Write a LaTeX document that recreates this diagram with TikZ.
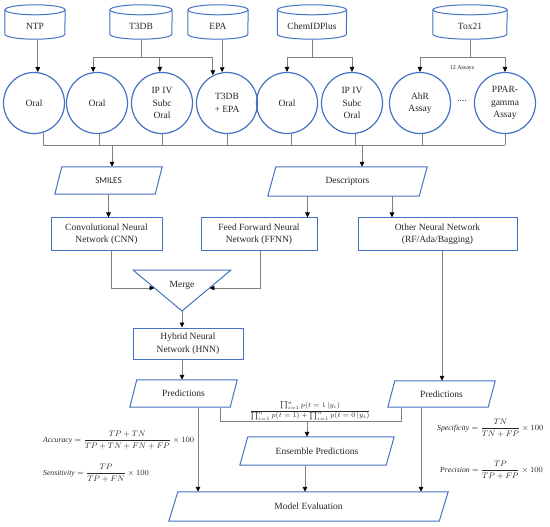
\documentclass[tikz,border=0pt]{standalone}
\usepackage{amsmath}
\usepackage{fontspec}
\setmainfont{Liberation Serif}
\newfontfamily\calfont{Carlito}
\usetikzlibrary{shapes.geometric,arrows.meta,calc}
\definecolor{boxblue}{RGB}{68,114,196}
\definecolor{lgray}{RGB}{128,128,128}
\definecolor{txt}{RGB}{38,38,38}
\newcommand\parashape[2]{\draw[draw=boxblue,line width=1pt] ([xshift=#2]#1.north west) -- (#1.north east) -- ([xshift=-#2]#1.south east) -- (#1.south west) -- cycle;}
\newcommand\dbshape[2]{%
  \draw[draw=boxblue,line width=1pt] ($(#1.north)+(0,-3)$) ellipse [x radius=#2, y radius=5];
  \draw[draw=boxblue,line width=1pt] ($(#1.north west)+(0,-3)$) -- ($(#1.south west)+(0,-5)$) arc[start angle=180, end angle=0, x radius=#2, y radius=5] -- ($(#1.north east)+(0,-3)$);}
\begin{document}
\begin{tikzpicture}[x=1pt,y=-1pt,
  every node/.style={text=txt, font=\fontsize{9.5}{12.5}\selectfont, inner sep=0pt},
  db/.style={rectangle, draw=none, minimum height=26pt},
  circ/.style={circle, draw=boxblue, line width=1.2pt, minimum size=61pt, align=center},
  box/.style={rectangle, draw=boxblue, line width=1pt, align=center},
  para/.style={rectangle, draw=none, align=center},
  conn/.style={draw=lgray, line width=0.9pt},
  arr/.style={conn, -{Triangle[length=5pt,width=4.5pt,color=black]}},
]
\fill[white] (0,0) rectangle (550,527);
\useasboundingbox (0,0) rectangle (550,527);

% databases
\node[db, minimum width=60pt] (ntp) at (35,26) {NTP};
\dbshape{ntp}{30}
\node[db, minimum width=62pt] (t3db) at (141,26) {T3DB};
\dbshape{t3db}{31}
\node[db, minimum width=60pt] (epa) at (218,26) {EPA};
\dbshape{epa}{30}
\node[db, minimum width=69pt] (chem) at (312,26) {ChemIDPlus};
\dbshape{chem}{34.5}
\node[db, minimum width=74pt] (tox) at (470,26) {Tox21};
\dbshape{tox}{37}

% circles
\node[circ] (c1) at (34,103) {Oral};
\node[circ] (c2) at (97,103) {Oral};
\node[circ] (c3) at (162,103) {IP IV\\Subc\\Oral};
\node[circ] (c4) at (227,103) {T3DB\\+ EPA};
\node[circ] (c5) at (287,103) {Oral};
\node[circ] (c6) at (352,103) {IP IV\\Subc\\Oral};
\node[circ] (c7) at (420,103) {AhR\\Assay};
\node[circ] (c8) at (505,103) {PPAR-\\gamma\\Assay};
\node (dots) at (462,101) {....};
\node[font=\fontsize{6}{7}\selectfont] (assays) at (462,68) {12 Assays};

\coordinate (tbar) at (0,57);
\coordinate (bus) at (0,145);

% top connectors
\draw[arr] (ntp.south -| c1.83) -- (c1.83);
\draw[conn] (t3db.south) -- (t3db.south |- tbar);
\draw[conn] (c2.97 |- tbar) -- (c4.117 |- tbar);
\draw[arr] (c2.97 |- tbar) -- (c2.97);
\draw[arr] (c3.94 |- tbar) -- (c3.94);
\draw[arr] (c4.117 |- tbar) -- (c4.117);
\draw[arr] (epa.south -| c4.99) -- (c4.99);
\draw[conn] (chem.south) -- (chem.south |- tbar);
\draw[conn] (c5.north |- tbar) -- (c6.north |- tbar);
\draw[arr] (c5.north |- tbar) -- (c5.north);
\draw[arr] (c6.north |- tbar) -- (c6.north);
\draw[conn] (tox.south) -- (tox.south |- tbar);
\draw[conn] (c7.north |- tbar) -- (c8.north |- tbar);
\draw[arr] (c7.north |- tbar) -- (c7.north);
\draw[arr] (c8.north |- tbar) -- (c8.north);

% bus
\draw[conn] (c1.-73) -- (c1.-73 |- bus);
\draw[conn] (c2.-86) -- (c2.-86 |- bus);
\draw[conn] (c3.south) -- (c3.south |- bus);
\draw[conn] (c4.south) -- (c4.south |- bus);
\draw[conn] (c5.-81) -- (c5.-81 |- bus);
\draw[conn] (c6.-83) -- (c6.-83 |- bus);
\draw[conn] (c7.-86) -- (c7.-86 |- bus);
\draw[conn] (c8.south) -- (c8.south |- bus);
\draw[conn] (c1.-73 |- bus) -- (c8.south |- bus);

% inputs
\node[para, minimum width=107pt, minimum height=27pt, font=\calfont\fontsize{9}{11}\selectfont] (smiles) at (108.5,180.5) {SMILES};
\parashape{smiles}{7pt}
\node[para, minimum width=159pt, minimum height=29pt] (desc) at (347.5,181.5) {Descriptors};
\parashape{desc}{8pt}
\draw[arr] ([xshift=3.5pt]smiles.north |- bus) -- ([xshift=3.5pt]smiles.north);
\draw[arr] ([xshift=14.5pt]desc.north |- bus) -- ([xshift=14.5pt]desc.north);

% networks
\node[box, minimum width=111pt, minimum height=32pt] (cnn) at (106.5,234) {Convolutional Neural\\Network (CNN)};
\node[box, minimum width=116pt, minimum height=32pt] (ffnn) at (259,234) {Feed Forward Neural\\Network (FFNN)};
\node[box, minimum width=159pt, minimum height=32pt] (other) at (437.5,234) {Other Neural Network\\(RF/Ada/Bagging)};
\draw[arr] (smiles.south) -- (smiles.south |- cnn.north);
\draw[arr] ([xshift=-10pt]ffnn.north east |- desc.south) -- ([xshift=-10pt]ffnn.north east);
\draw[arr] ([xshift=44.5pt]desc.south) -- ([xshift=44.5pt]desc.south |- other.north);

% merge
\coordinate (mtl) at (133,270);
\coordinate (mtr) at (231,270);
\coordinate (mapex) at (182,311);
\draw[draw=boxblue, line width=1pt] (mtl) -- (mtr) -- (mapex) -- cycle;
\node (merge) at (182,285) {Merge};
\draw[arr] ([xshift=4.5pt]cnn.south) |- ($(mtl)!0.439!(mapex)$);
\draw[arr] ([xshift=1pt]ffnn.south) |- ($(mtr)!0.439!(mapex)$);

% HNN
\node[box, minimum width=110pt, minimum height=31pt] (hnn) at (188,343.5) {Hybrid Neural\\Network (HNN)};
\draw[arr] (mapex) -- (mapex |- hnn.north);

% predictions
\node[para, minimum width=107pt, minimum height=27pt] (pred1) at (183.5,393.5) {Predictions};
\parashape{pred1}{7pt}
\node[para, minimum width=107pt, minimum height=26pt] (pred2) at (441.5,394) {Predictions};
\parashape{pred2}{7pt}
\draw[arr] (mapex |- hnn.south) -- (mapex |- pred1.north);
\draw[arr] ([xshift=4.5pt]other.south) -- ([xshift=4.5pt]other.south |- pred2.north);

% ensemble
\node[para, minimum width=154pt, minimum height=28pt] (ens) at (317,451) {Ensemble Predictions};
\parashape{ens}{8pt}
\coordinate (ebar) at (0,421);
\draw[conn] ([xshift=36.5pt]pred1.south) -- ([xshift=36.5pt]pred1.south |- ebar) -- ([xshift=-40.5pt]pred2.south |- ebar) -- ([xshift=-40.5pt]pred2.south);
\draw[arr] ([xshift=-10pt]ens.north |- ebar) -- ([xshift=-10pt]ens.north);
\node[anchor=south, font=\fontsize{7.3}{8.5}\selectfont] (frac) at (310,420.5) {$\dfrac{\textstyle\prod_{i=1}^{n} p(t=1\,|y_i)}{\textstyle\prod_{i=1}^{n} p(t=1)+\prod_{i=1}^{n} p(t=0\,|y_i)}$};

% model evaluation
\node[para, minimum width=279pt, minimum height=29pt] (me) at (308.5,506.5) {Model Evaluation};
\parashape{me}{9pt}
\draw[arr] ([xshift=14.5pt]pred1.south) -- ([xshift=14.5pt]pred1.south |- me.north);
\draw[arr] ([xshift=-12pt]ens.south) -- ([xshift=-12pt]ens.south |- me.north);
\draw[arr] ([xshift=-20.5pt]pred2.south) -- ([xshift=-20.5pt]pred2.south |- me.north);

% formulas
\node[anchor=west, font=\fontsize{7.7}{10}\selectfont] (acc) at (43,440) {$\mathit{Accuracy}=\dfrac{TP+TN}{TP+TN+FN+FP}\times 100$};
\node[anchor=west, font=\fontsize{7.7}{10}\selectfont] (sens) at (43,473) {$\mathit{Sensitivity}=\dfrac{TP}{TP+FN}\times 100$};
\node[anchor=west, font=\fontsize{7.7}{10}\selectfont] (spec) at (437,428) {$\mathit{Specificity}=\dfrac{TN}{TN+FP}\times 100$};
\node[anchor=west, font=\fontsize{7.7}{10}\selectfont] (prec) at (440,470) {$\mathit{Precision}=\dfrac{TP}{TP+FP}\times 100$};
\end{tikzpicture}
\end{document}
